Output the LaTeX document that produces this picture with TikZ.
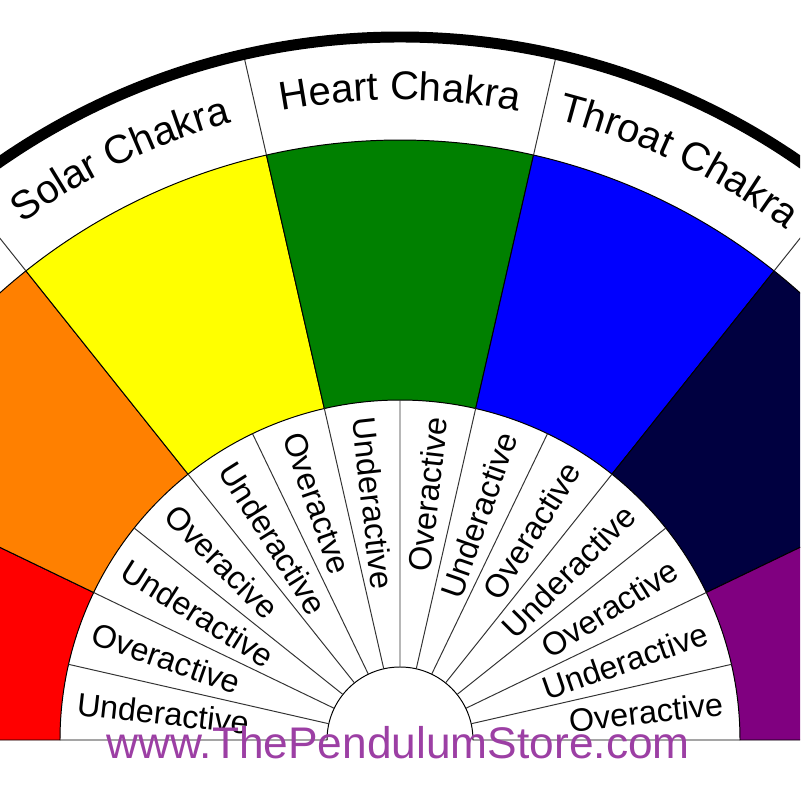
\documentclass[tikz,border=0pt]{standalone}
\usepackage{fontspec}
\setmainfont{Liberation Sans}
\usepackage{tikz}
\usetikzlibrary{decorations.text}
\definecolor{RootRed}{HTML}{FF0000}
\definecolor{SacralOrange}{HTML}{FF8000}
\definecolor{SolarYellow}{HTML}{FFFF00}
\definecolor{HeartGreen}{HTML}{008000}
\definecolor{ThroatBlue}{HTML}{0000FF}
\definecolor{BrowIndigo}{HTML}{000040}
\definecolor{CrownPurple}{HTML}{800080}
\definecolor{Divider}{HTML}{333333}
\definecolor{SiteMark}{HTML}{9C3FA4}
\newcommand{\statefont}{\fontsize{23}{24}\selectfont}
\newcommand{\chakrafont}{\fontsize{28.5}{30}\selectfont}
\newcommand{\sitefont}{\fontsize{31.5}{33}\selectfont}

\begin{document}
\begin{tikzpicture}[
  x=0.025cm,y=0.025cm,
  wedge/.style={draw=black,line width=0.7pt},
  divider/.style={draw=Divider,line width=0.7pt},
  state/.style={font=\statefont,inner sep=0pt},
  leftstate/.style={state,anchor=west,rotate=#1-180},
  rightstate/.style={state,anchor=east,rotate=#1},
  rim/.style={line width=7.8pt,draw=black}
]
\useasboundingbox (-400,-60) rectangle (400,740);
\clip (-400,-60) rectangle (400,740);

% colour ring
\filldraw[wedge,fill=RootRed] (154.29:340) -- (154.29:600) arc[start angle=154.29,end angle=180,radius=600] -- (180:340) arc[start angle=180,end angle=154.29,radius=340] -- cycle;
\filldraw[wedge,fill=SacralOrange] (128.57:340) -- (128.57:600) arc[start angle=128.57,end angle=154.29,radius=600] -- (154.29:340) arc[start angle=154.29,end angle=128.57,radius=340] -- cycle;
\filldraw[wedge,fill=SolarYellow] (102.86:340) -- (102.86:600) arc[start angle=102.86,end angle=128.57,radius=600] -- (128.57:340) arc[start angle=128.57,end angle=102.86,radius=340] -- cycle;
\filldraw[wedge,fill=HeartGreen] (77.14:340) -- (77.14:600) arc[start angle=77.14,end angle=102.86,radius=600] -- (102.86:340) arc[start angle=102.86,end angle=77.14,radius=340] -- cycle;
\filldraw[wedge,fill=ThroatBlue] (51.43:340) -- (51.43:600) arc[start angle=51.43,end angle=77.14,radius=600] -- (77.14:340) arc[start angle=77.14,end angle=51.43,radius=340] -- cycle;
\filldraw[wedge,fill=BrowIndigo] (25.71:340) -- (25.71:600) arc[start angle=25.71,end angle=51.43,radius=600] -- (51.43:340) arc[start angle=51.43,end angle=25.71,radius=340] -- cycle;
\filldraw[wedge,fill=CrownPurple] (0:340) -- (0:600) arc[start angle=0,end angle=25.71,radius=600] -- (25.71:340) arc[start angle=25.71,end angle=0,radius=340] -- cycle;

% name ring
\draw[divider] (25.71:600) -- (25.71:700) (51.43:600) -- (51.43:700) (77.14:600) -- (77.14:700)
  (102.86:600) -- (102.86:700) (128.57:600) -- (128.57:700) (154.29:600) -- (154.29:700);
\draw[rim] (0:703) arc[start angle=0,end angle=180,radius=703];
\path[decorate,decoration={text along path,text align=center,text={|\chakrafont|Solar Chakra}}]
  (129:640) arc[start angle=129,end angle=102.4,radius=640];
\path[decorate,decoration={text along path,text align=center,text={|\chakrafont|Heart Chakra}}]
  (103.3:640) arc[start angle=103.3,end angle=76.7,radius=640];
\path[decorate,decoration={text along path,text align=center,text={|\chakrafont|Throat Chakra}}]
  (77.6:640) arc[start angle=77.6,end angle=51,radius=640];

% state ring
\draw[wedge] (-340,0) -- (-73,0) arc[start angle=180,end angle=0,radius=73] -- (340,0);
\draw[divider] (12.86:73) -- (12.86:340) (25.71:73) -- (25.71:340) (38.57:73) -- (38.57:340)
  (51.43:73) -- (51.43:340) (64.29:73) -- (64.29:340) (77.14:73) -- (77.14:340)
  (90:73) -- (90:340) (102.86:73) -- (102.86:340) (115.71:73) -- (115.71:340)
  (128.57:73) -- (128.57:340) (141.43:73) -- (141.43:340) (154.29:73) -- (154.29:340)
  (167.14:73) -- (167.14:340);

\node[leftstate=173.57] (rootU) at (173.57:325) {Underactive};
\node[leftstate=160.71] (rootO) at (160.71:325) {Overactive};
\node[leftstate=147.86] (sacralU) at (147.86:325) {Underactive};
\node[leftstate=135] (sacralO) at (135:325) {Overacive};
\node[leftstate=122.14] (solarU) at (122.14:325) {Underactive};
\node[leftstate=109.29] (solarO) at (109.29:325) {Overactve};
\node[leftstate=96.43] (heartU) at (96.43:325) {Underactive};
\node[rightstate=83.57] (heartO) at (83.57:325) {Overactive};
\node[rightstate=70.71] (throatU) at (70.71:325) {Underactive};
\node[rightstate=57.86] (throatO) at (57.86:325) {Overactive};
\node[rightstate=45] (browU) at (45:325) {Underactive};
\node[rightstate=32.14] (browO) at (32.14:325) {Overactive};
\node[rightstate=19.29] (crownU) at (19.29:325) {Underactive};
\node[rightstate=6.43] (crownO) at (6.43:325) {Overactive};

\node[font=\sitefont,text=SiteMark,anchor=base,inner sep=0pt] (site) at (-2,-18) {www.ThePendulumStore.com};
\end{tikzpicture}
\end{document}
